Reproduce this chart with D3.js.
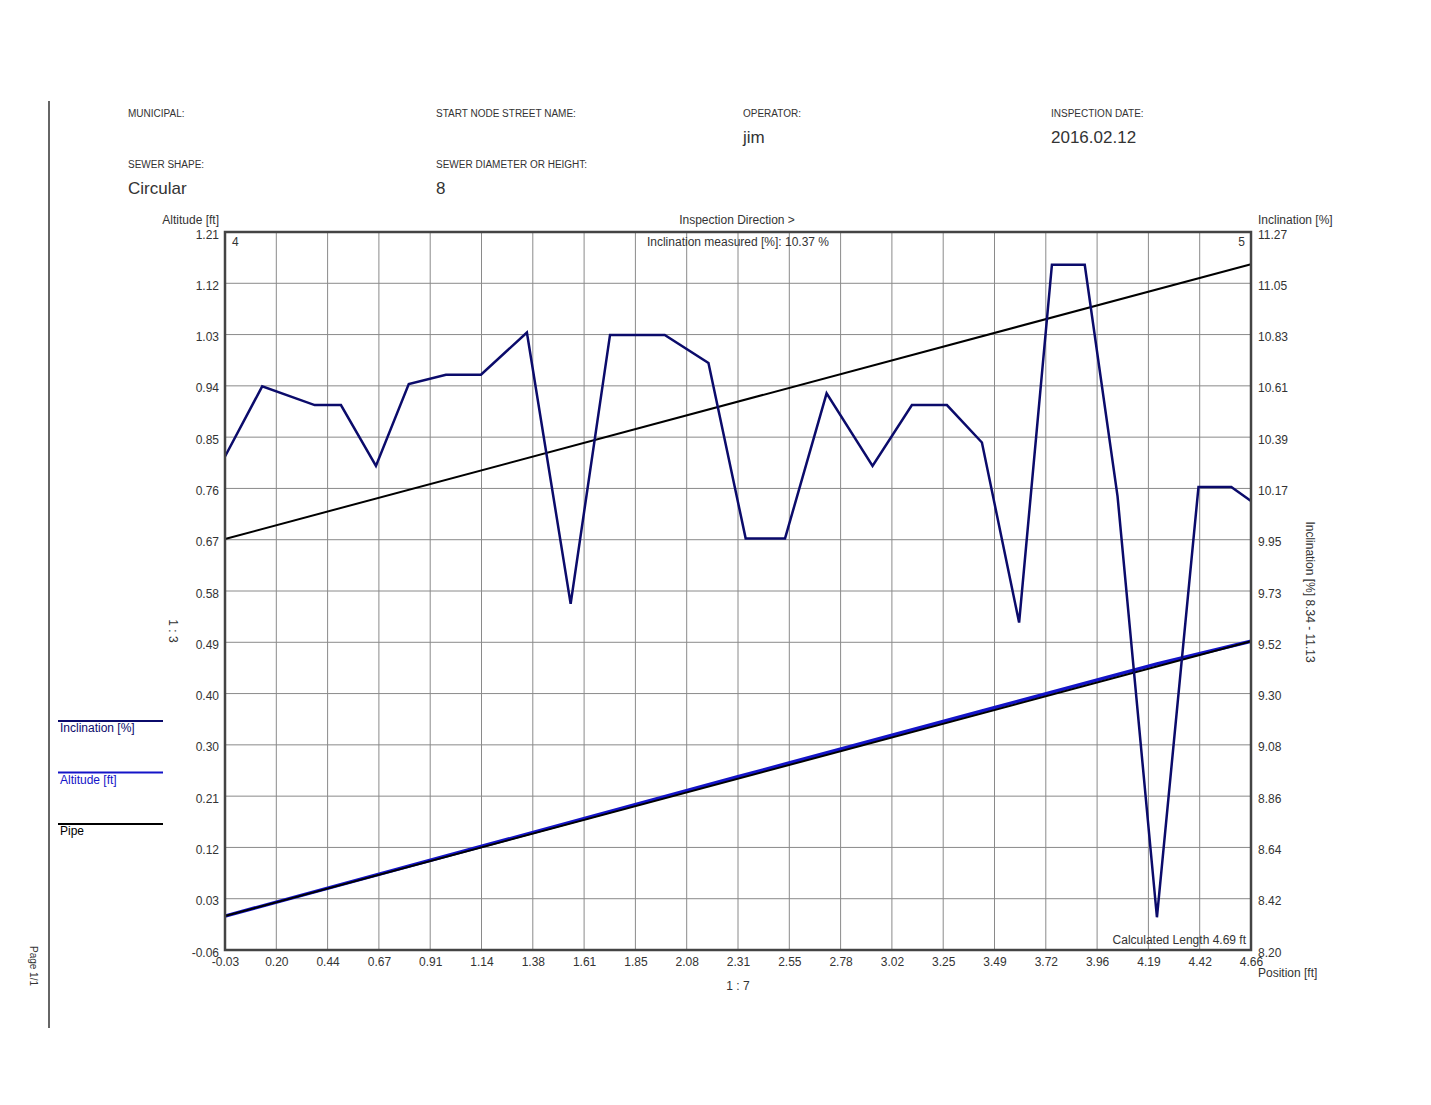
<!DOCTYPE html>
<html>
<head>
<meta charset="utf-8">
<script src="https://cdn.jsdelivr.net/npm/d3@7"></script>
<style>
  body { margin: 0; background: #fff; }
  svg text { font-family: "Liberation Sans", Arial, sans-serif; fill: #333; }
</style>
</head>
<body>
<svg id="chart"></svg>
<script>
var width = 1431,
    height = 1105;

// Position along the pipe [ft] and the inclination measured there [%]
var positions   = [-0.03, 0.14, 0.38, 0.50, 0.66, 0.81, 0.98, 1.14, 1.35, 1.55, 1.73, 1.98, 2.18, 2.35,
                   2.53, 2.72, 2.93, 3.11, 3.27, 3.43, 3.60, 3.75, 3.90, 4.05, 4.23, 4.42, 4.57, 4.66];
var inclination = [10.31, 10.61, 10.53, 10.53, 10.27, 10.62, 10.66, 10.66, 10.84, 9.68, 10.83, 10.83, 10.71, 9.96,
                   9.96, 10.58, 10.27, 10.53, 10.53, 10.37, 9.60, 11.13, 11.13, 10.14, 8.34, 10.18, 10.18, 10.12];

// Altitude [ft]
var altPositions = [-0.03, 1.14, 2.31, 3.49, 4.23, 4.66];
var altitude     = [0.000, 0.123, 0.246, 0.369, 0.446, 0.486];

// Pipe invert and crown [ft] (diameter 8 in)
var pipePositions = [-0.03, 4.66];
var pipeBottom    = [0.000, 0.486];
var pipeTop       = [0.667, 1.153];

// Tick labels
var xTickLabels    = ["-0.03", "0.20", "0.44", "0.67", "0.91", "1.14", "1.38", "1.61", "1.85", "2.08", "2.31",
                      "2.55", "2.78", "3.02", "3.25", "3.49", "3.72", "3.96", "4.19", "4.42", "4.66"];
var altTickLabels  = ["-0.06", "0.03", "0.12", "0.21", "0.30", "0.40", "0.49", "0.58", "0.67", "0.76",
                      "0.85", "0.94", "1.03", "1.12", "1.21"];
var incTickLabels  = ["8.20", "8.42", "8.64", "8.86", "9.08", "9.30", "9.52", "9.73", "9.95", "10.17",
                      "10.39", "10.61", "10.83", "11.05", "11.27"];

// Header fields
var headerFields = [
  {label: "MUNICIPAL:", value: "", col: 0, row: 0},
  {label: "START NODE STREET NAME:", value: "", col: 1, row: 0},
  {label: "OPERATOR:", value: "jim", col: 2, row: 0},
  {label: "INSPECTION DATE:", value: "2016.02.12", col: 3, row: 0},
  {label: "SEWER SHAPE:", value: "Circular", col: 0, row: 1},
  {label: "SEWER DIAMETER OR HEIGHT:", value: "8", col: 1, row: 1}
];

var legendItems = [
  {name: "Inclination [%]", color: "#0b0b6b"},
  {name: "Altitude [ft]", color: "#1414c8"},
  {name: "Pipe", color: "#000"}
];

var plot = {left: 225, right: 1251, top: 232, bottom: 950};

// evenly spaced values spanning a domain, one per label
function spread(domain, n) {
  return d3.range(n).map(function(i) { return domain[0] + i * (domain[1] - domain[0]) / (n - 1); });
}

var xDomain = [-0.03, 4.66],
    altDomain = [-0.06, 1.21],
    incDomain = [8.20, 11.27];

var x = d3.scaleLinear().domain(xDomain).range([plot.left, plot.right]);
var yAlt = d3.scaleLinear().domain(altDomain).range([plot.bottom, plot.top]);
var yInc = d3.scaleLinear().domain(incDomain).range([plot.bottom, plot.top]);

var xTicks = spread(xDomain, xTickLabels.length),
    altTicks = spread(altDomain, altTickLabels.length),
    incTicks = spread(incDomain, incTickLabels.length);

var svg = d3.select("#chart").attr("width", width).attr("height", height);

// page margin rule + page number
svg.append("line")
    .attr("x1", 49).attr("x2", 49).attr("y1", 101).attr("y2", 1028)
    .attr("stroke", "#333").attr("stroke-width", 1.5);
svg.append("text")
    .attr("transform", "translate(30,966) rotate(90)")
    .attr("text-anchor", "middle")
    .style("font-size", "10px")
    .text("Page 1/1");

// header
var colX = [128, 436, 743, 1051];
headerFields.forEach(function(f) {
  var y0 = 117 + f.row * 51;
  svg.append("text")
      .attr("x", colX[f.col]).attr("y", y0)
      .style("font-size", "10px")
      .text(f.label);
  if (f.value) {
    svg.append("text")
        .attr("x", colX[f.col]).attr("y", y0 + 26)
        .style("font-size", "17px")
        .text(f.value);
  }
});

// gridlines
var grid = svg.append("g").attr("class", "grid");
grid.selectAll("line.v")
    .data(xTicks)
    .enter().append("line")
    .attr("class", "v")
    .attr("x1", function(d) { return x(d); })
    .attr("x2", function(d) { return x(d); })
    .attr("y1", plot.top).attr("y2", plot.bottom)
    .attr("stroke", "#8a8a8a").attr("stroke-width", 1);
grid.selectAll("line.h")
    .data(altTicks)
    .enter().append("line")
    .attr("class", "h")
    .attr("x1", plot.left).attr("x2", plot.right)
    .attr("y1", function(d) { return yAlt(d); })
    .attr("y2", function(d) { return yAlt(d); })
    .attr("stroke", "#8a8a8a").attr("stroke-width", 1);

// axes (labels only, no tick marks)
var xAxis = svg.append("g")
    .attr("transform", "translate(0," + plot.bottom + ")")
    .call(d3.axisBottom(x).tickValues(xTicks).tickSize(0).tickPadding(9)
      .tickFormat(function(d, i) { return xTickLabels[i]; }));
var leftAxis = svg.append("g")
    .attr("transform", "translate(" + (plot.left - 6) + ",1.5)")
    .call(d3.axisLeft(yAlt).tickValues(altTicks).tickSize(0).tickPadding(0)
      .tickFormat(function(d, i) { return altTickLabels[i]; }));
var rightAxis = svg.append("g")
    .attr("transform", "translate(" + (plot.right + 7) + ",1.5)")
    .call(d3.axisRight(yInc).tickValues(incTicks).tickSize(0).tickPadding(0)
      .tickFormat(function(d, i) { return incTickLabels[i]; }));

[xAxis, leftAxis, rightAxis].forEach(function(a) {
  a.select(".domain").remove();
  a.selectAll("text")
      .style("font-family", '"Liberation Sans", Arial, sans-serif')
      .style("font-size", "12px")
      .attr("fill", "#333");
});
leftAxis.selectAll("text").attr("dy", "0.38em");
rightAxis.selectAll("text").attr("dy", "0.38em");
xAxis.selectAll("text").attr("dy", "0.55em");

// series
var pipeLine = d3.line()
    .x(function(d) { return x(d[0]); })
    .y(function(d) { return yAlt(d[1]); });

svg.append("path")
    .datum(d3.zip(altPositions, altitude))
    .attr("d", pipeLine)
    .attr("fill", "none")
    .attr("stroke", "#1414c8")
    .attr("stroke-width", 3.5);

svg.append("path")
    .datum(d3.zip(pipePositions, pipeBottom))
    .attr("d", pipeLine)
    .attr("fill", "none")
    .attr("stroke", "#000")
    .attr("stroke-width", 2);

svg.append("path")
    .datum(d3.zip(pipePositions, pipeTop))
    .attr("d", pipeLine)
    .attr("fill", "none")
    .attr("stroke", "#000")
    .attr("stroke-width", 2);

var incLine = d3.line()
    .x(function(d) { return x(d[0]); })
    .y(function(d) { return yInc(d[1]); });

svg.append("path")
    .datum(d3.zip(positions, inclination))
    .attr("d", incLine)
    .attr("fill", "none")
    .attr("stroke", "#0b0b6b")
    .attr("stroke-width", 2.5)
    .attr("stroke-linejoin", "miter")
    .attr("stroke-miterlimit", 5);

// frame
svg.append("rect")
    .attr("x", plot.left).attr("y", plot.top)
    .attr("width", plot.right - plot.left)
    .attr("height", plot.bottom - plot.top)
    .attr("fill", "none")
    .attr("stroke", "#444")
    .attr("stroke-width", 2.5);

// chart annotations
function note(txt, xx, yy, anchor, size) {
  return svg.append("text")
      .attr("x", xx).attr("y", yy)
      .attr("dy", "0.35em")
      .attr("text-anchor", anchor || "start")
      .style("font-size", (size || 12) + "px")
      .text(txt);
}
note("Altitude [ft]", 219, 220, "end");
note("Inclination [%]", 1258, 220);
note("Inspection Direction >", 737, 220, "middle");
note("Inclination measured [%]: 10.37 %", 738, 242, "middle");
note("4", 232, 242);
note("5", 1245, 242, "end");
note("Calculated Length 4.69 ft", 1246, 940, "end");
note("Position [ft]", 1258, 973);
note("1 : 7", 738, 986, "middle");

svg.append("text")
    .attr("transform", "translate(169,631) rotate(90)")
    .attr("text-anchor", "middle")
    .style("font-size", "12px")
    .text("1 : 3");
svg.append("text")
    .attr("transform", "translate(1306,592) rotate(90)")
    .attr("text-anchor", "middle")
    .style("font-size", "12px")
    .text("Inclination [%] 8.34 - 11.13");

// legend
var legend = svg.append("g").attr("class", "legend");
legendItems.forEach(function(d, i) {
  var ly = 721 + i * 51.5;
  legend.append("line")
      .attr("x1", 58).attr("x2", 163)
      .attr("y1", ly).attr("y2", ly)
      .attr("stroke", d.color).attr("stroke-width", 2);
  legend.append("text")
      .attr("x", 60).attr("y", ly + 11)
      .style("font-size", "12px")
      .style("fill", d.color)
      .text(d.name);
});
</script>
</body>
</html>
